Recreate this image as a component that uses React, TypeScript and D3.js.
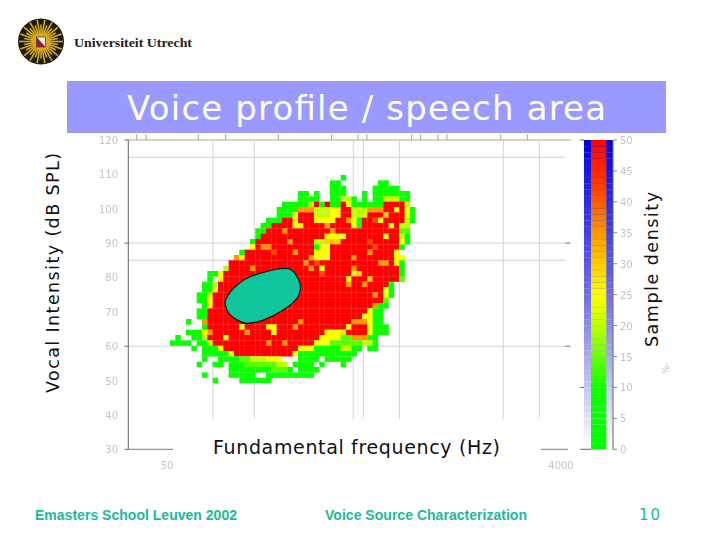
import React from "react";
import * as d3 from "d3";

const TITLE = "Voice profile / speech area";
const Y_LABEL = "Vocal Intensity (dB SPL)";
const X_LABEL = "Fundamental frequency (Hz)";
const BAR_LABEL = "Sample density";
const FOOTER_LEFT = "Emasters School Leuven 2002";
const FOOTER_MID = "Voice Source Characterization";
const PAGE_NUMBER = "10";
const LOGO_TEXT = "Universiteit Utrecht";

const Y_TICKS = [30, 40, 50, 60, 70, 80, 90, 100, 110, 120];
const Y_MAJOR = [30, 60, 90, 120];
const Y_GRID = [60, 85, 90, 115, 120];
const X_TICK_LABELS = [50, 4000];
const X_GRID = [83.4, 132, 397, 444, 663, 2107, 3144];
const X_TOP_TICKS = [35.7, 39.6, 70.8, 96, 172.5, 312, 418, 462, 760, 840, 1019, 1126, 2046, 2752];
const BAR_TICKS = [0, 5, 10, 15, 20, 25, 30, 35, 40, 45, 50];
const BAR_STEPS = d3.range(0, 50);

const DENSITY_STOPS = [0, 10, 20, 25, 35, 42, 50];
const DENSITY_COLORS = ["#00ff00", "#10ff00", "#c0ff00", "#ffff00", "#ff9900", "#ff4400", "#ff0000"];
const SIDE_STOPS = [0, 25, 50];
const SIDE_COLORS = ["#ffffff", "#7070e4", "#0000e0"];

// density class of each cell code
const CODE_DENSITY: Record<number, number> = { 1: 6, 2: 14, 3: 20, 4: 25, 5: 30, 6: 35, 7: 42, 9: 50 };

// one entry per level bin: [first frequency bin, last frequency bin, density code]
const DENSITY_ROWS: number[][][] = [
  [[32, 32, 1]],
  [[30, 31, 1], [39, 40, 1]],
  [[30, 32, 1], [38, 42, 1]],
  [[24, 25, 1], [27, 27, 1], [30, 32, 1], [36, 36, 1], [38, 44, 1]],
  [[24, 27, 1], [30, 34, 1], [32, 33, 3], [36, 36, 1], [38, 38, 1], [39, 44, 1], [40, 42, 3]],
  [[21, 22, 1], [23, 29, 1], [26, 26, 3], [27, 27, 9], [29, 29, 9], [30, 36, 1], [32, 32, 9], [33, 33, 4], [37, 39, 1], [40, 43, 9], [44, 44, 3]],
  [[20, 23, 1], [24, 26, 6], [27, 29, 3], [30, 31, 4], [32, 33, 9], [34, 36, 3], [37, 39, 6], [40, 43, 9], [44, 44, 4], [45, 45, 1]],
  [[20, 22, 1], [23, 23, 4], [24, 26, 9], [27, 29, 3], [30, 31, 4], [32, 33, 9], [34, 36, 3], [37, 43, 9], [44, 44, 4], [45, 45, 1]],
  [[18, 20, 1], [21, 22, 9], [23, 23, 4], [24, 26, 9], [27, 30, 4], [31, 33, 9], [34, 34, 4], [35, 35, 1], [36, 38, 9], [39, 39, 4], [40, 43, 9], [44, 44, 3], [45, 45, 1]],
  [[17, 18, 1], [19, 22, 9], [23, 24, 4], [25, 33, 9], [34, 34, 4], [35, 35, 1], [36, 42, 9], [43, 44, 3]],
  [[16, 17, 1], [18, 42, 9], [43, 44, 2]],
  [[16, 16, 1], [17, 28, 9], [29, 32, 4], [33, 39, 9], [40, 40, 4], [41, 42, 9], [43, 43, 3], [44, 44, 1]],
  [[15, 15, 1], [16, 26, 9], [27, 28, 3], [29, 31, 5], [32, 42, 9], [43, 43, 4], [44, 44, 1]],
  [[15, 15, 4], [16, 26, 9], [27, 27, 1], [28, 29, 4], [30, 42, 9], [43, 43, 1]],
  [[13, 13, 1], [14, 26, 9], [27, 29, 4], [30, 41, 9], [42, 42, 4]],
  [[12, 12, 6], [13, 13, 4], [14, 25, 9], [26, 26, 6], [27, 29, 4], [30, 41, 9], [42, 43, 4]],
  [[11, 41, 9], [42, 42, 4], [43, 43, 1]],
  [[10, 10, 3], [11, 42, 9], [43, 43, 1]],
  [[7, 8, 1], [9, 9, 4], [10, 42, 9], [43, 43, 1]],
  [[7, 7, 1], [9, 9, 4], [10, 42, 9], [43, 43, 2]],
  [[6, 7, 1], [8, 8, 3], [9, 40, 9], [41, 41, 1]],
  [[6, 7, 1], [8, 8, 4], [9, 40, 9], [41, 41, 1]],
  [[5, 6, 1], [7, 7, 3], [8, 39, 9], [40, 40, 4], [41, 41, 1]],
  [[5, 6, 1], [7, 7, 4], [8, 39, 9], [40, 40, 2]],
  [[6, 6, 1], [7, 7, 4], [8, 37, 9], [38, 38, 6], [39, 40, 1]],
  [[5, 6, 1], [7, 36, 9], [37, 37, 4], [38, 39, 1]],
  [[5, 6, 1], [7, 35, 9], [36, 37, 4], [38, 39, 1]],
  [[3, 3, 1], [6, 6, 6], [7, 33, 9], [34, 36, 6], [37, 37, 4], [38, 39, 1]],
  [[6, 6, 1], [7, 32, 9], [33, 33, 4], [34, 36, 9], [37, 37, 4], [38, 40, 1]],
  [[3, 5, 1], [6, 6, 4], [7, 28, 9], [29, 31, 4], [32, 32, 3], [33, 36, 9], [37, 37, 4], [38, 40, 1]],
  [[1, 1, 1], [4, 5, 1], [6, 6, 3], [7, 27, 9], [28, 31, 4], [32, 33, 2], [34, 36, 6], [37, 38, 1]],
  [[0, 3, 1], [5, 6, 1], [7, 7, 3], [8, 26, 9], [27, 29, 4], [30, 35, 2], [36, 37, 3], [38, 38, 1]],
  [[4, 4, 1], [6, 8, 1], [9, 9, 4], [10, 23, 9], [24, 26, 4], [27, 35, 1], [32, 33, 3], [37, 38, 1]],
  [[6, 6, 1], [7, 10, 1], [11, 11, 4], [12, 22, 9], [23, 23, 4], [24, 34, 1]],
  [[6, 6, 1], [9, 12, 1], [13, 14, 2], [15, 17, 3], [18, 20, 4], [24, 27, 1], [29, 33, 1]],
  [[5, 5, 1], [8, 9, 1], [11, 13, 1], [14, 19, 2], [20, 21, 3], [23, 26, 1], [28, 28, 1], [32, 32, 1]],
  [[11, 22, 1], [19, 21, 2], [24, 27, 1]],
  [[6, 6, 1], [11, 15, 1], [18, 22, 1], [23, 26, 1]],
  [[8, 8, 1], [13, 18, 1]],
];

// isolated cells inside the dense core: [level bin, frequency bin, density code]
const DENSITY_SPECKS: number[][] = [
  [13, 17, 6], [13, 18, 6], [12, 22, 6], [14, 23, 6], [17, 26, 6], [17, 28, 4], [16, 25, 6], [17, 15, 6],
  [19, 33, 4], [18, 34, 4], [18, 35, 5], [19, 37, 5], [15, 34, 6], [14, 37, 6], [16, 39, 6], [16, 40, 6],
  [21, 40, 4], [20, 36, 6], [20, 33, 6], [11, 40, 4], [30, 10, 4], [28, 13, 4], [28, 18, 4], [28, 19, 4],
  [29, 19, 4], [29, 14, 6], [27, 24, 6], [28, 23, 6], [31, 18, 6], [31, 21, 6], [29, 7, 6], [10, 21, 6],
  [14, 19, 7], [8, 33, 6], [9, 29, 6], [10, 30, 6], [13, 38, 7], [18, 28, 7], [16, 27, 7], [22, 38, 6],
  [17, 34, 6], [12, 37, 7], [8, 38, 7], [7, 40, 5], [9, 41, 4], [6, 42, 4],
];

// speech area contour: [Hz, dB]
const SPEECH_AREA: number[][] = [
  [95.3, 72.9], [104.5, 76.8], [126, 80.2], [169, 82.4], [200, 82.2], [219.5, 78.3], [215, 74.4], [182, 70.5], [146, 67.6], [119, 66.7], [101, 69.1],
];

const SUN_RAYS = d3.range(0, 36);

const xScale = d3.scaleLog().domain([50, 4000]).range([167, 561]);
const yScale = d3.scaleLinear().domain([30, 120]).range([449.3, 140]);
const colScale = d3.scaleLinear().domain([0, 46]).range([170, 415.3]);
const rowScale = d3.scaleLinear().domain([0, 39]).range([175, 383]);
const barScale = d3.scaleLinear().domain([0, 50]).range([449.3, 140]);
const densityColor = d3.scaleLinear<string>().domain(DENSITY_STOPS).range(DENSITY_COLORS);
const sideColor = d3.scaleLinear<string>().domain(SIDE_STOPS).range(SIDE_COLORS);

const speechPath = d3
  .line<number[]>()
  .x((d) => xScale(d[0]))
  .y((d) => yScale(d[1]))
  .curve(d3.curveCardinalClosed.tension(0.2))(SPEECH_AREA) as string;

const cellMap = new Map<string, number>();
DENSITY_ROWS.forEach((spans, r) =>
  spans.forEach(([a, b, code]) => {
    for (let c = a; c <= b; c++) cellMap.set(`${r},${c}`, code);
  })
);
DENSITY_SPECKS.forEach(([r, c, code]) => cellMap.set(`${r},${c}`, code));
const cells = Array.from(cellMap, ([k, code]) => {
  const [r, c] = k.split(",").map(Number);
  return { r, c, code };
});

const SANS = "'DejaVu Sans', Verdana, sans-serif";
const ARIAL = "'Liberation Sans', Arial, sans-serif";
const TICK_FILL = "#c4c4c4";
const TEAL = "#1cb99b";

export default function App() {
  return (
    <svg width={720} height={540} viewBox="0 0 720 540" style={{ position: "absolute", left: 0, top: 0, background: "#fff" }}>
      <defs>
        <filter id="soft" x="-5%" y="-5%" width="110%" height="110%">
          <feGaussianBlur stdDeviation="0.4" />
        </filter>
      </defs>

      {/* logo */}
      <g>
        <circle cx={41} cy={41.5} r={23} fill="#1d1a10" />
        {SUN_RAYS.map((i) => {
          const a = (i / SUN_RAYS.length) * 2 * Math.PI;
          return (
            <line key={i} x1={41 + 8 * Math.cos(a)} y1={41.5 + 8 * Math.sin(a)} x2={41 + (i % 2 ? 17 : 22) * Math.cos(a)} y2={41.5 + (i % 2 ? 17 : 22) * Math.sin(a)} stroke="#d4a91e" strokeWidth={1.6} />
          );
        })}
        <circle cx={41} cy={41.5} r={9} fill="#d9a81c" />
        <rect x={36.5} y={37} width={9} height={10} fill="#f2ece6" stroke="#222" strokeWidth={0.6} />
        <path d="M36.5 37 L45.5 47 L36.5 47 Z" fill="#8e1f2c" />
        <text x={74} y={46.5} fontFamily="'Liberation Serif', serif" fontWeight="bold" fontSize={13} fill="#222" textLength={118} lengthAdjust="spacingAndGlyphs">
          {LOGO_TEXT}
        </text>
      </g>

      {/* title */}
      <rect x={67} y={81} width={599} height={52} fill="#9999ff" />
      <text x={127} y={120} fontFamily={SANS} fontSize={34} fill="#ffffff" textLength={479}>
        {TITLE}
      </text>

      {/* plot frame and grid */}
      <g filter="url(#soft)">
        {Y_GRID.map((v) => (
          <line key={v} x1={128} x2={Y_MAJOR.includes(v) ? 571 : 565} y1={yScale(v)} y2={yScale(v)} stroke={v === 120 ? "#aaa89c" : "#d2d2d2"} strokeWidth={1} />
        ))}
        {X_GRID.map((v) => (
          <line key={v} x1={xScale(v)} x2={xScale(v)} y1={140} y2={419} stroke="#d4d4d4" strokeWidth={1} />
        ))}
        {X_TOP_TICKS.map((v) => (
          <line key={v} x1={xScale(v)} x2={xScale(v)} y1={134} y2={140} stroke="#a8a8a0" strokeWidth={1} />
        ))}
        <line x1={128.3} x2={128.3} y1={140} y2={449.3} stroke="#666" strokeWidth={1} />
        {Y_MAJOR.map((v) => (
          <line key={v} x1={124.5} x2={128.3} y1={yScale(v)} y2={yScale(v)} stroke="#666" strokeWidth={1} />
        ))}
        {Y_MAJOR.filter((v) => v === 60 || v === 90).map((v) => (
          <line key={v} x1={565} x2={570} y1={yScale(v)} y2={yScale(v)} stroke="#888" strokeWidth={1} />
        ))}
        <line x1={128.3} x2={173} y1={449.3} y2={449.3} stroke="#777" strokeWidth={1} />
        <line x1={541} x2={568} y1={449.3} y2={449.3} stroke="#777" strokeWidth={1} />
        {Y_TICKS.map((v) => (
          <text key={v} x={118} y={yScale(v) + 4} textAnchor="end" fontFamily={SANS} fontSize={10} fill={TICK_FILL}>
            {v}
          </text>
        ))}
        {X_TICK_LABELS.map((v) => (
          <text key={v} x={xScale(v)} y={469} textAnchor="middle" fontFamily={SANS} fontSize={10} fill={TICK_FILL}>
            {v}
          </text>
        ))}
      </g>

      {/* density cells */}
      <g>
        {cells.map(({ r, c, code }) => (
          <rect
            key={`${r}-${c}`}
            x={colScale(c)}
            y={rowScale(r)}
            width={colScale(c + 1) - colScale(c) + 0.2}
            height={rowScale(r + 1) - rowScale(r) + 0.2}
            fill={densityColor(CODE_DENSITY[code])}
          />
        ))}
      </g>

      {/* speech area */}
      <path d={speechPath} fill="#10c49c" stroke="#111" strokeWidth={1.2} />

      {/* colour bar */}
      <g>
        {BAR_STEPS.map((v) => {
          const y0 = barScale(v + 1);
          const h = barScale(v) - y0 + 0.2;
          return (
            <g key={v}>
              <rect x={584} y={y0} width={29} height={h} fill={sideColor(v + 0.5)} />
              <rect x={591} y={y0} width={15.3} height={h} fill={densityColor(v + 0.5)} />
            </g>
          );
        })}
        <line x1={613} x2={613} y1={140} y2={449.3} stroke="#666" strokeWidth={1} />
        <line x1={580} x2={591} y1={449.3} y2={449.3} stroke="#666" strokeWidth={1} />
        <line x1={580} x2={584} y1={140} y2={140} stroke="#666" strokeWidth={1} />
        <line x1={580} x2={584} y1={barScale(10)} y2={barScale(10)} stroke="#666" strokeWidth={1} />
        {BAR_TICKS.map((v) => (
          <g key={v} filter="url(#soft)">
            <line x1={613} x2={617} y1={barScale(v)} y2={barScale(v)} stroke="#888" strokeWidth={1} />
            <text x={620} y={barScale(v) + 4} fontFamily={SANS} fontSize={10} fill={TICK_FILL}>
              {v}
            </text>
          </g>
        ))}
        <text transform="translate(669,374) rotate(-90)" fontFamily={SANS} fontSize={9} fill={TICK_FILL} filter="url(#soft)">
          %-
        </text>
      </g>

      {/* axis titles */}
      <text transform="translate(59,393) rotate(-90)" fontFamily={SANS} fontSize={17.5} fill="#111" textLength={240}>
        {Y_LABEL}
      </text>
      <text transform="translate(658,347) rotate(-90)" fontFamily={SANS} fontSize={17.5} fill="#111" textLength={155}>
        {BAR_LABEL}
      </text>
      <text x={213} y={454} fontFamily={SANS} fontSize={19} fill="#111" textLength={287}>
        {X_LABEL}
      </text>

      {/* footer */}
      <text x={35} y={520} fontFamily={ARIAL} fontWeight="bold" fontSize={14} fill={TEAL} textLength={202}>
        {FOOTER_LEFT}
      </text>
      <text x={325} y={520} fontFamily={ARIAL} fontWeight="bold" fontSize={14} fill={TEAL} textLength={202}>
        {FOOTER_MID}
      </text>
      <text x={639} y={520} fontFamily={SANS} fontSize={15} fill={TEAL} textLength={21}>
        {PAGE_NUMBER}
      </text>
    </svg>
  );
}
